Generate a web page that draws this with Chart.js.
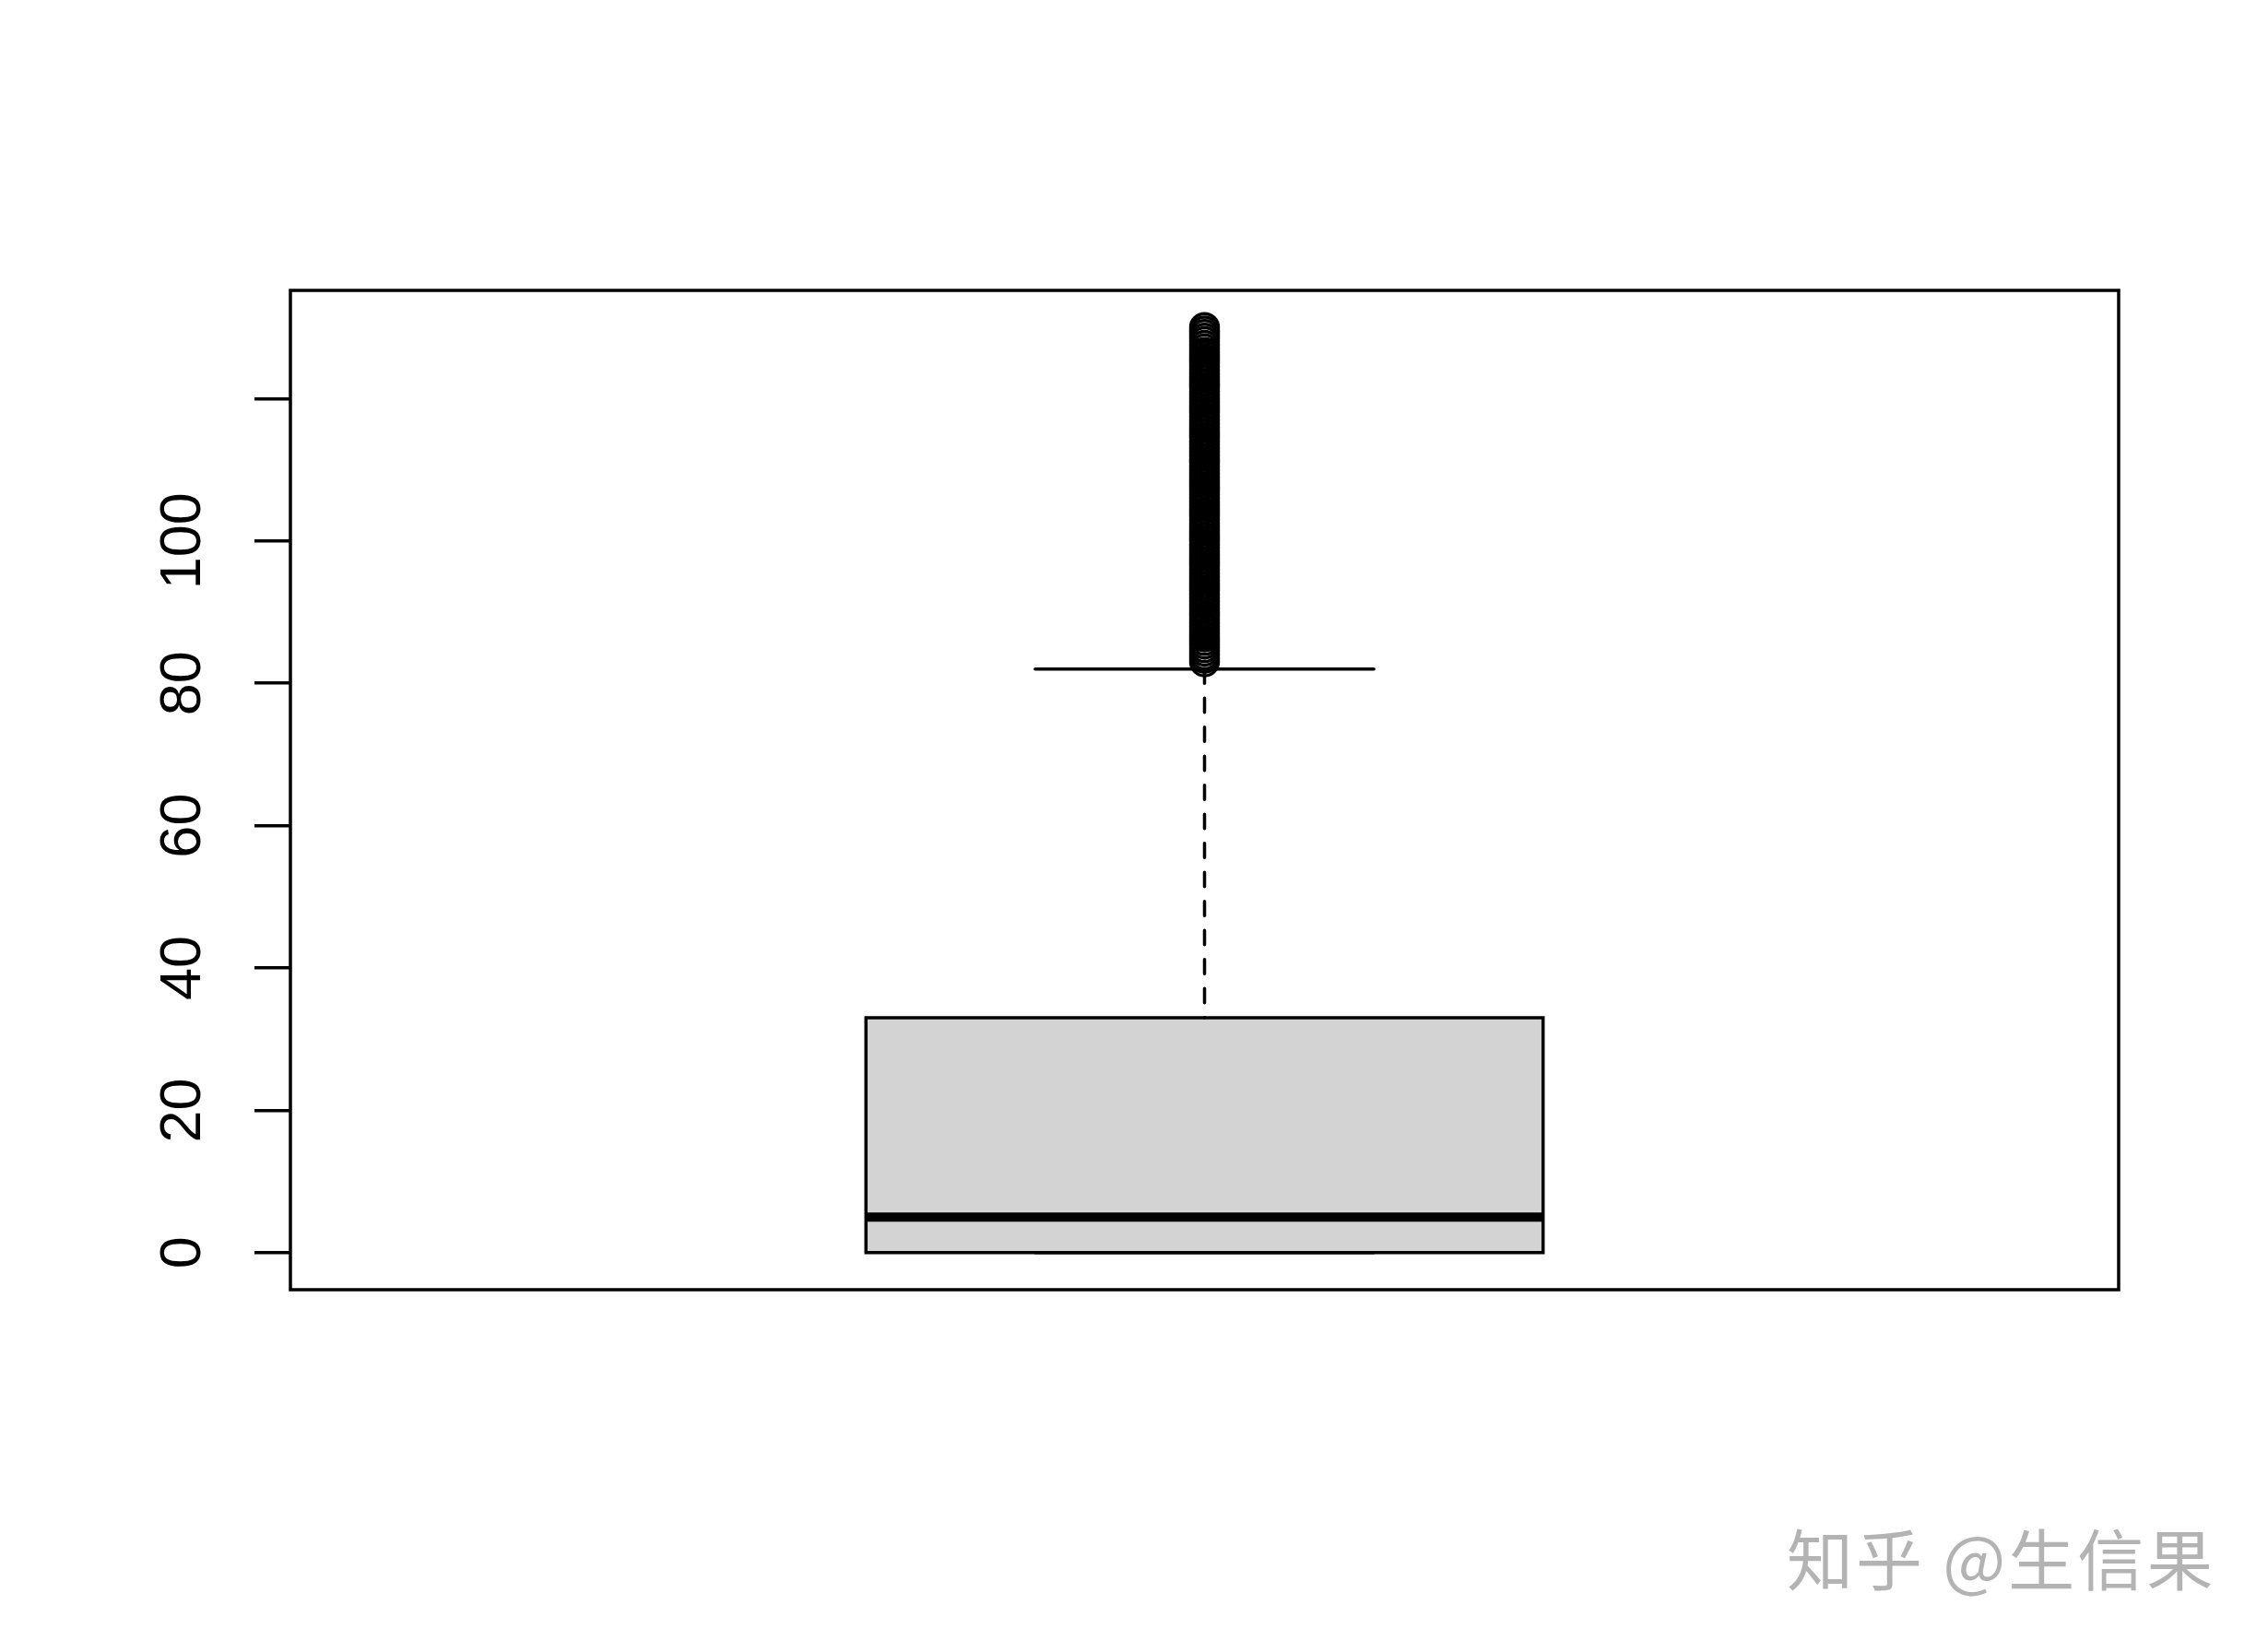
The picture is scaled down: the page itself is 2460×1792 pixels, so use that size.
<!DOCTYPE html>
<html>
<head>
<meta charset="utf-8">
<script src="https://cdn.jsdelivr.net/npm/chart.js@4/dist/chart.umd.min.js"></script>
<style>
  html, body { margin: 0; padding: 0; background: #fff; }
  #wrap { position: relative; width: 2460px; height: 1792px; }
  #mark {
    position: absolute; left: 1938px; top: 1652px;
    font-family: "Noto Sans CJK SC", sans-serif; font-size: 72px; line-height: 1;
    letter-spacing: 3px; color: #b3b3b3; white-space: nowrap;
  }
</style>
</head>
<body>
<div id="wrap">
  <canvas id="box-chart"></canvas>
  <div id="mark">知乎 @生信果</div>
</div>
<script>
// box statistics
const lowerWhisker = 0;
const q1 = 0;
const median = 5;
const q3 = 33;
const upperWhisker = 82;
// outliers are packed solid from just above the whisker up to 130
const outliers = [
  83, 83.5, 84, 84.5, 85, 85.5, 86, 86.5, 87, 87.5, 88, 88.5, 89, 89.5, 90, 90.5,
  91, 91.5, 92, 92.5, 93, 93.5, 94, 94.5, 95, 95.5, 96, 96.5, 97, 97.5, 98, 98.5,
  99, 99.5, 100, 100.5, 101, 101.5, 102, 102.5, 103, 103.5, 104, 104.5, 105, 105.5,
  106, 106.5, 107, 107.5, 108, 108.5, 109, 109.5, 110, 110.5, 111, 111.5, 112, 112.5,
  113, 113.5, 114, 114.5, 115, 115.5, 116, 116.5, 117, 117.5, 118, 118.5, 119, 119.5,
  120, 120.5, 121, 121.5, 122, 122.5, 123, 123.5, 124, 124.5, 125, 125.5, 126, 126.5,
  127, 127.5, 128, 128.5, 129, 129.5, 130
];
const yTicks = [0, 20, 40, 60, 80, 100, 120];
const yTickLabels = ["0", "20", "40", "60", "80", "100", ""];
const yRange = [-5.2, 135.2];

// box sits at x = 1 on a 0.46..1.54 axis, like R's boxplot
const xRange = [0.46, 1.54];
const boxHalf = 0.2;
const capHalf = 0.1;

const frame = {
  id: "frame",
  afterDraw(chart) {
    const { ctx, chartArea: a } = chart;
    ctx.save();
    ctx.strokeStyle = "#000";
    ctx.lineWidth = 3.5;
    ctx.strokeRect(a.left, a.top, a.right - a.left, a.bottom - a.top);
    ctx.restore();
  }
};

const seg = (data, width, order, cap, dash) => ({
  type: "line",
  xAxisID: "x2",
  data,
  order,
  borderColor: "#000",
  borderWidth: width,
  borderDash: dash || [],
  borderCapStyle: cap,
  borderJoinStyle: "miter",
  pointRadius: 0,
  fill: false,
});

new Chart(document.getElementById("box-chart"), {
  type: "bar",
  data: {
    labels: ["box"],
    datasets: [
      {
        type: "line",
        xAxisID: "x2",
        data: outliers.map(v => ({ x: 1, y: v })),
        showLine: false,
        pointRadius: 15,
        pointBorderWidth: 3.5,
        pointBorderColor: "#000",
        pointBackgroundColor: "rgba(0,0,0,0)",
        order: 0,
      },
      seg([{ x: 1 - capHalf, y: upperWhisker }, { x: 1 + capHalf, y: upperWhisker }], 3.5, 1, "round"),
      seg([{ x: 1 - capHalf, y: lowerWhisker }, { x: 1 + capHalf, y: lowerWhisker }], 3.5, 1, "round"),
      seg([{ x: 1, y: upperWhisker }, { x: 1, y: q3 }], 3.5, 2, "round", [15.5, 16]),
      seg([{ x: 1 - boxHalf, y: median }, { x: 1 + boxHalf, y: median }], 10, 1, "butt"),
      seg([
        { x: 1 - boxHalf, y: q1 }, { x: 1 - boxHalf, y: q3 }, { x: 1 + boxHalf, y: q3 },
        { x: 1 + boxHalf, y: q1 }, { x: 1 - boxHalf, y: q1 }
      ], 3.5, 3, "square"),
      {
        xAxisID: "x",
        data: [[q1, q3]],
        backgroundColor: "#d3d3d3",
        borderWidth: 0,
        grouped: false,
        barPercentage: (2 * boxHalf) / (xRange[1] - xRange[0]),
        categoryPercentage: 1,
        order: 4,
      },
    ],
  },
  options: {
    responsive: true,
    maintainAspectRatio: false,
    animation: false,
    events: [],
    layout: { padding: { top: 315, right: 162, bottom: 393, left: 0 } },
    plugins: { legend: { display: false }, tooltip: { enabled: false } },
    scales: {
      x: { type: "category", display: false, offset: true },
      x2: { type: "linear", display: false, offset: false, bounds: "data", min: xRange[0], max: xRange[1] },
      y: {
        min: yRange[0],
        max: yRange[1],
        afterBuildTicks: s => { s.ticks = yTicks.map(v => ({ value: v })); },
        afterFit: s => { s.width = 315; },
        border: { display: false },
        grid: { drawOnChartArea: false, tickLength: 39, color: "#000", tickColor: "#000", lineWidth: 3.5 },
        ticks: {
          autoSkip: false,
          minRotation: 90,
          maxRotation: 90,
          crossAlign: "center",
          padding: 24,
          color: "#000",
          callback: (v, i) => yTickLabels[i],
          font: { family: "'Liberation Sans', Arial, sans-serif", size: 63 },
        },
      },
    },
  },
  plugins: [frame],
});
</script>
</body>
</html>
